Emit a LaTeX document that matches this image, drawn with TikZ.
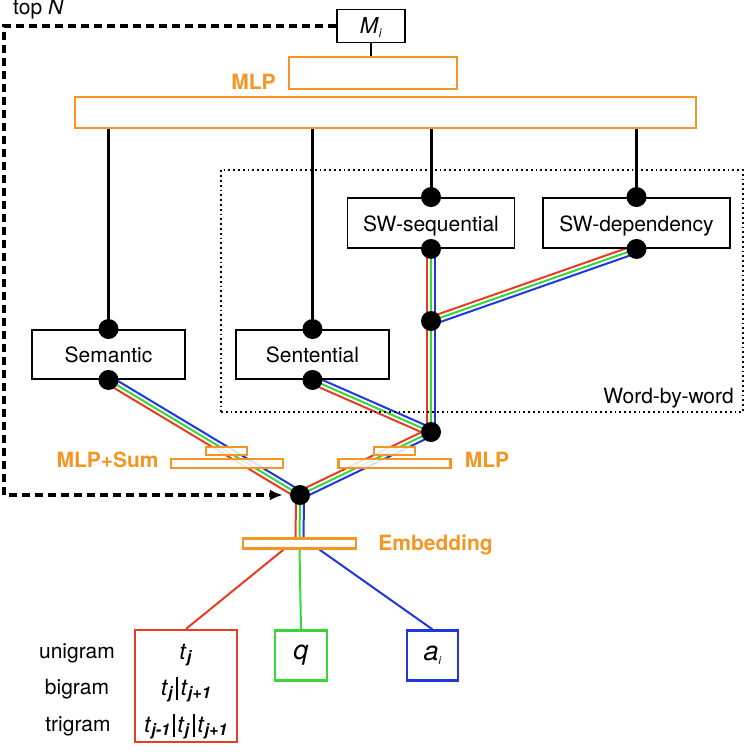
\documentclass[tikz,border=0pt]{standalone}
\usepackage{fontspec}
\setmainfont{TeX Gyre Heros}
\usetikzlibrary{arrows.meta}
\usetikzlibrary{calc}
\usetikzlibrary{positioning}
\usetikzlibrary{backgrounds}

\definecolor{mlporange}{RGB}{243,150,35}
\definecolor{linered}{RGB}{230,60,35}
\definecolor{linegreen}{RGB}{55,215,55}
\definecolor{lineblue}{RGB}{30,55,225}

% 3色の平行線
\newcommand{\rgbline}[2]{%
  \draw[rgb, linered]   ($(#1)!4pt!-90:(#2)$) -- ($(#2)!4pt!90:(#1)$);
  \draw[rgb, linegreen] (#1.center) -- (#2.center);
  \draw[rgb, lineblue]  ($(#1)!4pt!90:(#2)$) -- ($(#2)!4pt!-90:(#1)$);
}
\newcommand{\tsub}[1]{\textit{t}\textsubscript{\textbf{\textit{#1}}}}
\newcommand{\ngsep}{\hspace{2.5pt}\rule[-5pt]{1.8pt}{23pt}\hspace{2.5pt}}

\begin{document}
\begin{tikzpicture}[x=1pt, y=-1pt,
  every node/.style={font=\fontsize{21}{25}\selectfont},
  blackbox/.style={draw, line width=1.9pt, fill=white, inner sep=0pt,
    text height=16pt, text depth=0pt},
  mlpbox/.style={draw=mlporange, line width=2.3pt, fill=white, inner sep=0pt},
  thinbox/.style={mlpbox, fill opacity=0.85},
  dot/.style={circle, fill=black, minimum size=20pt, inner sep=0pt},
  mlplabel/.style={text=mlporange, font=\fontsize{21}{25}\selectfont\bfseries, inner sep=0pt},
  rgb/.style={line width=2pt},
  stem/.style={line width=3pt},
  topn/.style={line width=3.2pt, dash pattern=on 8pt off 5pt},
  inbox/.style={line width=2.2pt, fill=white, inner sep=0pt}]
\useasboundingbox (0,0) rectangle (752,752);

% 上部
\node[blackbox, minimum width=68pt, minimum height=33pt] (Mi) at (371,26)
  {\fontsize{22}{25}\selectfont\textit{M}\raisebox{-4pt}{\fontsize{12}{12}\selectfont\textit{i}}};
\node[mlpbox, minimum width=168pt, minimum height=32pt] (mlptop) at (373,73) {};
\node[mlpbox, minimum width=621pt, minimum height=31pt] (concat) at (385.5,112.5) {};
\node[mlplabel, anchor=east] (mlptoplab) at ([xshift=-12pt, yshift=-9pt]mlptop.west) {MLP};
\node[inner sep=0pt, anchor=base west] (topnlab) at (13,15) {top \textit{N}};

% Word-by-word
\node[draw, line width=2pt, dash pattern=on 1.8pt off 3pt, minimum width=522pt,
  minimum height=242pt, inner sep=0pt] (wbw) at (482,291) {};
\node[inner sep=0pt, anchor=base east] (wbwlab) at ([xshift=-10pt, yshift=10pt]wbw.south east) {Word-by-word};

% モデル
\node[blackbox, minimum width=153pt, minimum height=49pt] (sem) at (108.5,354.5) {Semantic};
\node[blackbox, minimum width=153pt, minimum height=49pt] (sent) at (312.5,354.5) {Sentential};
\node[blackbox, minimum width=167pt, minimum height=50pt] (swseq) at (431,223) {SW-sequential};
\node[blackbox, minimum width=187pt, minimum height=50pt] (swdep) at (636.5,223) {SW-dependency};

% MLP
\node[thinbox, minimum width=41pt, minimum height=8pt] (sumS) at (226.5,451) {};
\node[thinbox, minimum width=112pt, minimum height=9pt] (sumB) at (227,463.5) {};
\node[mlplabel, anchor=east] (sumlab) at ([xshift=-11pt, yshift=4pt]sumB.west) {MLP+Sum};
\node[thinbox, minimum width=41pt, minimum height=8pt] (mlpS) at (394.5,451) {};
\node[thinbox, minimum width=112pt, minimum height=9pt] (mlpB) at (394.5,463.5) {};
\node[mlplabel, anchor=west] (mlplab) at ([xshift=13pt, yshift=4pt]mlpB.east) {MLP};
\node[mlpbox, minimum width=113pt, minimum height=10pt] (emb) at (299.5,543.5) {};
\node[mlplabel, anchor=west] (emblab) at ([xshift=21pt, yshift=-1pt]emb.east) {Embedding};

% 入力
\node[inbox, draw=linered, minimum width=102pt, minimum height=112pt] (ngram) at (186,686) {};
\node[inbox, draw=linegreen, minimum width=52pt, minimum height=50pt] (qbox) at (301,655.5)
  {\fontsize{27}{30}\selectfont\textit{q}};
\node[inbox, draw=lineblue, minimum width=51pt, minimum height=50pt] (abox) at (432.5,655.5)
  {\fontsize{27}{30}\selectfont\textit{a}\raisebox{-4pt}{\fontsize{11}{11}\selectfont\textit{i}}};
\node[inner sep=0pt, anchor=base] (row1) at (186,659) {\fontsize{23}{25}\selectfont\tsub{j}};
\node[inner sep=0pt, anchor=base] (row2) at (186,695) {\fontsize{23}{25}\selectfont\tsub{j}\ngsep\tsub{j+1}};
\node[inner sep=0pt, anchor=base] (row3) at (186,732) {\fontsize{23}{25}\selectfont\tsub{j-1}\ngsep\tsub{j}\ngsep\tsub{j+1}};
\node[inner sep=0pt, anchor=base] (uni) at (77,658) {unigram};
\node[inner sep=0pt, anchor=base] (bi) at (77,694) {bigram};
\node[inner sep=0pt, anchor=base] (tri) at (78,731) {trigram};

% 結合点
\node[dot] (semT) at (sem.north) {};
\node[dot] (semB) at (sem.south) {};
\node[dot] (sentT) at (sent.north) {};
\node[dot] (sentB) at (sent.south) {};
\node[dot] (swseqT) at (swseq.north) {};
\node[dot] (swseqB) at (swseq.south) {};
\node[dot] (swdepT) at (swdep.north) {};
\node[dot] (swdepB) at (swdep.south) {};
\node[dot] (jmid) at (431,321) {};
\node[dot] (jlow) at (431,432) {};
\node[dot] (jmain) at (300,495) {};
\coordinate (topnc) at (4,26);

% 線
\begin{scope}[on background layer]
  \draw[line width=1.6pt] (Mi.south) -- (Mi.south |- mlptop.north);
  \foreach \d in {semT, sentT, swseqT, swdepT}
    \draw[stem] (\d |- concat.south) -- (\d.center);
  \rgbline{swdepB}{jmid}
  \rgbline{swseqB}{jmid}
  \rgbline{jmid}{jlow}
  \rgbline{sentB}{jlow}
  \rgbline{jlow}{jmain}
  \rgbline{semB}{jmain}
  \rgbline{jmain}{emb}
  \draw[rgb, linered] ([xshift=-16pt]emb.south) -- (ngram.north);
  \draw[rgb, linegreen] (emb.south) -- (qbox.north);
  \draw[rgb, lineblue] ([xshift=20pt]emb.south) -- (abox.north);
\end{scope}

% top N
\draw[topn, -{Latex[length=13pt, width=11pt]}, shorten >=7pt]
  (Mi.west) -- (topnc) |- (jmain.west);
\end{tikzpicture}
\end{document}
